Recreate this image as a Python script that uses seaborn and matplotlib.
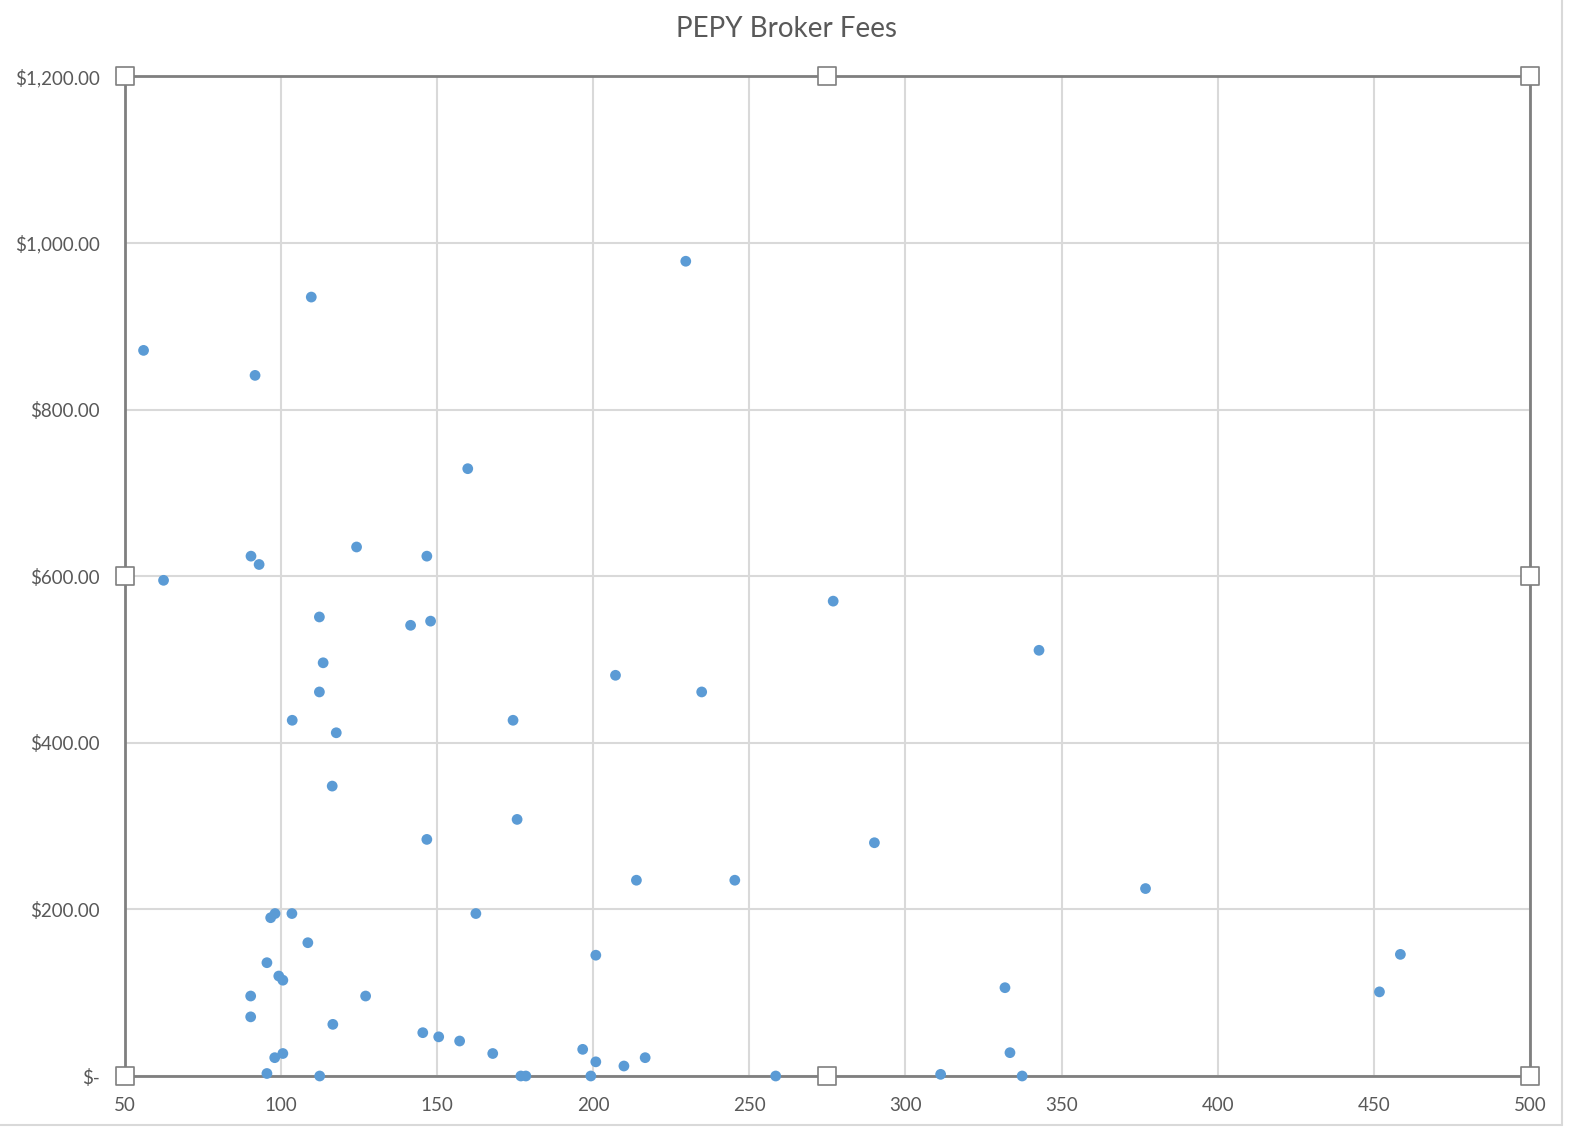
import matplotlib

matplotlib.use("Agg")
import matplotlib.pyplot as plt
import pandas as pd
import seaborn as sns

# members (x) vs. broker fee per employee per year (y)
members = [
    56.1, 62.5, 91.8, 109.8, 229.7, 159.9, 90.5, 93.1, 124.3, 146.8,
    112.4, 141.6, 148.0, 113.6, 112.4, 103.7, 117.8, 116.5, 146.8, 174.4,
    175.7, 207.2, 234.8, 276.9, 342.8, 290.1, 213.9, 245.4, 376.9, 162.5,
    96.8, 98.2, 103.6, 108.7, 95.6, 99.4, 100.7, 90.4, 90.4, 127.2,
    116.7, 145.5, 150.6, 157.3, 167.9, 98.1, 100.7, 95.6, 112.5, 176.9,
    178.5, 199.3, 196.7, 200.9, 200.9, 209.9, 216.7, 258.5, 311.3, 337.4,
    331.9, 333.5, 451.8, 458.5,
]
pepy_fees = [
    871, 595, 841, 935, 978, 729, 624, 614, 635, 624,
    551, 541, 546, 496, 461, 427, 412, 348, 284, 427,
    308, 481, 461, 570, 511, 280, 235, 235, 225, 195,
    190, 195, 195, 160, 136, 120, 115, 96, 71, 96,
    62, 52, 47, 42, 27, 22, 27, 3, 0, 0,
    0, 0, 32, 145, 17, 12, 22, 0, 2, 0,
    106, 28, 101, 146,
]
x_ticks = [50, 100, 150, 200, 250, 300, 350, 400, 450, 500]
y_ticks = [0, 200, 400, 600, 800, 1000, 1200]
y_labels = ["$-", "$200.00", "$400.00", "$600.00", "$800.00", "$1,000.00", "$1,200.00"]

df = pd.DataFrame({"members": members, "pepy": pepy_fees})

sns.set_theme(style="white")
plt.rcParams["font.family"] = ["Lato", "DejaVu Sans"]

fig = plt.figure(figsize=(15.74, 11.32), dpi=100)
ax = fig.add_axes([124.5 / 1574, 1 - 1076 / 1132, (1530 - 124.5) / 1574, (1076 - 76.3) / 1132])

sns.scatterplot(data=df, x="members", y="pepy", ax=ax, color="#5b9bd5",
                s=60, edgecolor="none", zorder=3, clip_on=False)

ax.set_xlim(50, 500)
ax.set_ylim(0, 1200)
ax.set_xticks(x_ticks)
ax.set_yticks(y_ticks)
ax.set_yticklabels(y_labels)
ax.set_xlabel("")
ax.set_ylabel("")
ax.grid(True, color="#d9d9d9", linewidth=1.5)
ax.set_axisbelow(True)
for sp in ax.spines.values():
    sp.set_color("#7f7f7f")
    sp.set_linewidth(2)
ax.tick_params(axis="both", length=0, labelsize=13.5, labelcolor="#595959")
ax.tick_params(axis="x", pad=15)
ax.tick_params(axis="y", pad=18)

# plot-area selection handles
hx = [0, 0.5, 1, 0, 1, 0, 0.5, 1]
hy = [0, 0, 0, 0.5, 0.5, 1, 1, 1]
ax.scatter(hx, hy, transform=ax.transAxes, marker="s", s=160, facecolor="white",
           edgecolor="#7f7f7f", linewidth=1.2, zorder=5, clip_on=False)

fig.suptitle("PEPY Broker Fees", y=1 - 29 / 1132, va="center", fontsize=20, color="#595959")

# chart-area outline (right and bottom edges visible)
fig.add_artist(plt.Line2D([1562 / 1574, 1562 / 1574], [1 - 1125 / 1132, 1], transform=fig.transFigure,
                          color="#d9d9d9", linewidth=1.5))
fig.add_artist(plt.Line2D([0, 1562 / 1574], [1 - 1125 / 1132, 1 - 1125 / 1132], transform=fig.transFigure,
                          color="#d9d9d9", linewidth=1.5))

fig.savefig("out.png", dpi=100)
